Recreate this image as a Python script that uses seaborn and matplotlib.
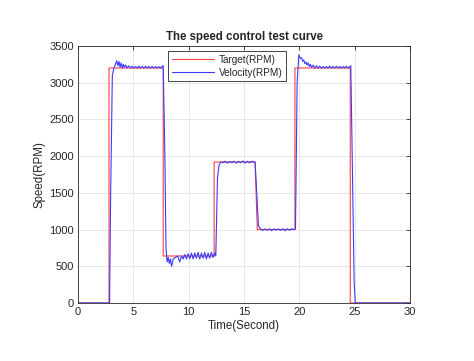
import numpy as np
import pandas as pd
import matplotlib
matplotlib.use("Agg")
import matplotlib.pyplot as plt
import seaborn as sns

# target speed profile (step changes)
target_t = [0, 2.8, 2.8, 7.7, 7.7, 12.3, 12.3, 16.0, 16.2, 19.6, 19.6, 24.6, 24.6, 30]
target_rpm = [0, 0, 3200, 3200, 640, 640, 1920, 1920, 1000, 1000, 3200, 3200, 0, 0]

vel_t = [0, 2.85, 2.95, 3.1, 3.25, 3.4, 3.5, 3.6, 3.7, 3.8, 3.9, 4.0, 4.1, 4.2, 4.3,
         4.45, 4.6, 4.75, 4.9, 5.05, 5.2, 5.35, 5.5, 5.65, 5.8, 5.95, 6.1, 6.25, 6.4,
         6.55, 6.7, 6.85, 7.0, 7.15, 7.3, 7.45, 7.6, 7.7, 7.85, 7.95, 8.05, 8.15, 8.25,
         8.35, 8.45, 8.6, 8.8, 9.0, 9.2, 9.35, 9.5, 9.65, 9.8, 9.95, 10.1, 10.25, 10.4,
         10.55, 10.7, 10.85, 11.0, 11.15, 11.3, 11.45, 11.6, 11.75, 11.9, 12.05, 12.2,
         12.35, 12.45, 12.6, 12.75, 12.9, 13.1, 13.3, 13.5, 13.7, 13.9, 14.1, 14.3, 14.5,
         14.7, 14.9, 15.1, 15.3, 15.5, 15.7, 15.9, 16.0, 16.15, 16.3, 16.5, 16.7, 16.9,
         17.1, 17.3, 17.5, 17.7, 17.9, 18.1, 18.3, 18.5, 18.7, 18.9, 19.1, 19.3, 19.55,
         19.65, 19.8, 19.95, 20.1, 20.2, 20.3, 20.4, 20.5, 20.6, 20.7, 20.8, 20.9, 21.0,
         21.1, 21.25, 21.4, 21.55, 21.7, 21.85, 22.0, 22.15, 22.3, 22.45, 22.6, 22.75,
         22.9, 23.05, 23.2, 23.35, 23.5, 23.65, 23.8, 23.95, 24.1, 24.25, 24.4, 24.55,
         24.65, 24.8, 24.95, 25.05, 30]
vel_rpm = [0, 0, 1500, 3100, 3200, 3260, 3300, 3230, 3290, 3210, 3270, 3200, 3250, 3210, 3240,
           3200, 3230, 3200, 3225, 3200, 3220, 3200, 3225, 3200, 3220, 3200, 3225, 3200, 3220,
           3200, 3220, 3200, 3220, 3200, 3220, 3200, 3225, 3230, 2000, 750, 560, 620, 540,
           600, 500, 600, 620, 640, 560, 640, 600, 660, 600, 670, 600, 680, 600, 680,
           610, 690, 600, 680, 610, 690, 600, 680, 610, 690, 620, 680, 640, 1700, 1880, 1920,
           1910, 1930, 1905, 1925, 1910, 1930, 1905, 1930, 1910, 1935, 1905, 1930, 1910, 1930,
           1920, 1920, 1500, 1050, 1010, 990, 1010, 990, 1010, 985, 1010, 990, 1010, 990,
           1010, 985, 1010, 990, 1010, 1000, 1010, 3000, 3380, 3330, 3340, 3290, 3310, 3260,
           3280, 3240, 3270, 3220, 3250, 3210, 3240, 3200, 3230, 3200, 3225, 3200, 3220,
           3200, 3220, 3200, 3225, 3200, 3220, 3200, 3225, 3200, 3220, 3200, 3220,
           3200, 3225, 3200, 3220, 3230, 1800, 300, 0, 0]

df_target = pd.DataFrame({"t": target_t, "rpm": target_rpm})
df_vel = pd.DataFrame({"t": vel_t, "rpm": vel_rpm})

sns.set_theme(style="whitegrid")
plt.rcParams["font.family"] = ["Liberation Sans", "DejaVu Sans"]

fig = plt.figure(figsize=(4.74, 3.61), dpi=100)
ax = fig.add_axes([0.1646, 0.1607, 0.7004, 0.7119])

sns.lineplot(data=df_target, x="t", y="rpm", estimator=None, sort=False,
             color="#ff4040", linewidth=0.8, label="Target(RPM)", ax=ax)
sns.lineplot(data=df_vel, x="t", y="rpm", estimator=None, sort=False,
             color="#3a3aff", linewidth=0.8, label="Velocity(RPM)", ax=ax)

ax.set_xlim(0, 30)
ax.set_ylim(0, 3500)
ax.set_xticks(range(0, 31, 5))
ax.set_yticks(range(0, 3501, 500))
ax.grid(True, color="#e6e6e6", linewidth=0.7)
for s in ax.spines.values():
    s.set_color("#262626")
    s.set_linewidth(0.6)
ax.tick_params(direction="in", length=3, width=0.6, labelsize=8, colors="#262626",
               top=True, right=True, labeltop=False, labelright=False, pad=3)
ax.set_xlabel("Time(Second)", fontsize=8.3, color="#262626", labelpad=2)
ax.set_ylabel("Speed(RPM)", fontsize=8.3, color="#262626", labelpad=3)
ax.set_title("The speed control test curve", fontsize=8.3, fontweight="bold", pad=4)

leg = ax.legend(loc="upper center", bbox_to_anchor=(0.449, 0.98), fontsize=7.2,
                frameon=True, fancybox=False, handlelength=4.2, borderpad=0.35,
                labelspacing=0.3, handletextpad=0.5, borderaxespad=0)
leg.get_frame().set_edgecolor("#262626")
leg.get_frame().set_linewidth(0.6)
leg.get_frame().set_alpha(1)

plt.savefig("out.png", dpi=100, facecolor="white")
